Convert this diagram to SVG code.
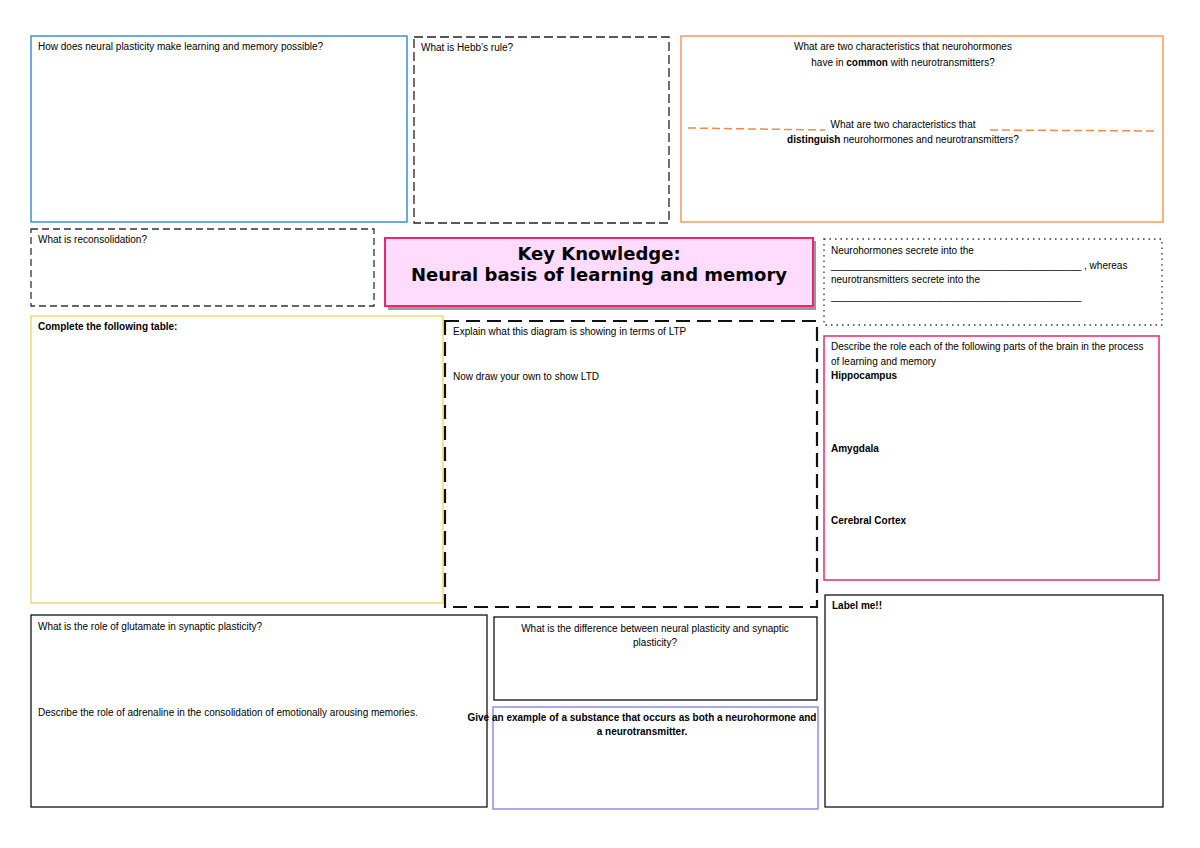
<svg xmlns="http://www.w3.org/2000/svg" width="1200" height="848" viewBox="0 0 1200 848">
<style>
text{font-family:"Liberation Sans",Arial,sans-serif;font-size:10px;fill:#000}
.b{font-weight:bold}
.box{fill:none}
.t{font-family:"DejaVu Sans",sans-serif;font-weight:bold;font-size:18px}
</style>
<rect width="1200" height="848" fill="#fff"/>
<g id="n1"><rect class="box" x="31" y="36" width="376" height="186" stroke="#1f7fc8" stroke-width="1.3"/><text x="38" y="50">How does neural plasticity make learning and memory possible?</text></g>
<g id="n2"><rect class="box" x="414" y="37" width="255" height="186" stroke="#222" stroke-width="1.3" stroke-dasharray="9,4"/><text x="421" y="51">What is Hebb’s rule?</text></g>
<g id="n3"><rect class="box" x="681" y="36" width="482" height="186" stroke="#f08a4b" stroke-width="1.3"/>
<text x="903" y="50" text-anchor="middle">What are two characteristics that neurohormones</text>
<text x="903" y="66" text-anchor="middle">have in <tspan class="b">common</tspan> with neurotransmitters?</text>
<path d="M688 128 L825 130 M990 130 L1157 131" stroke="#f08a4b" stroke-width="1.5" stroke-dasharray="8,4" fill="none"/>
<text x="903" y="128" text-anchor="middle">What are two characteristics that</text>
<text x="903" y="143" text-anchor="middle"><tspan class="b">distinguish</tspan> neurohormones and neurotransmitters?</text></g>
<g id="n4"><rect class="box" x="31" y="229" width="343" height="77" stroke="#333" stroke-width="1.3" stroke-dasharray="7,4"/><text x="38" y="243">What is reconsolidation?</text></g>
<g id="title"><rect x="388" y="241" width="428" height="69" fill="#999"/><rect x="385" y="238" width="428" height="68" fill="#ffdcfd" stroke="#e8286e" stroke-width="2"/>
<text class="t" x="599" y="260" text-anchor="middle">Key Knowledge:</text><text class="t" x="599" y="281" text-anchor="middle">Neural basis of learning and memory</text></g>
<g id="n5"><rect class="box" x="824" y="239" width="338" height="86" stroke="#333" stroke-width="1.3" stroke-dasharray="1.5,4"/>
<text x="831" y="254">Neurohormones secrete into the</text>
<text x="831" y="269">_____________________________________________ , whereas</text>
<text x="831" y="283">neurotransmitters secrete into the</text>
<text x="831" y="300">_____________________________________________</text></g>
<g id="n6"><rect class="box" x="31" y="316" width="412" height="287" stroke="#f5d25a" stroke-width="1.3"/><text class="b" x="38" y="330">Complete the following table:</text></g>
<g id="n7"><rect class="box" x="445" y="321" width="372" height="286" stroke="#111" stroke-width="2.2" stroke-dasharray="14,7"/>
<text x="453" y="335">Explain what this diagram is showing in terms of LTP</text><text x="453" y="380">Now draw your own to show LTD</text></g>
<g id="n8"><rect class="box" x="824" y="336" width="335" height="244" stroke="#e8286e" stroke-width="1.5"/>
<text x="831" y="350">Describe the role each of the following parts of the brain in the process</text>
<text x="831" y="365">of learning and memory</text>
<text class="b" x="831" y="379">Hippocampus</text><text class="b" x="831" y="452">Amygdala</text><text class="b" x="831" y="524">Cerebral Cortex</text></g>
<g id="n9"><rect class="box" x="31" y="615" width="456" height="192" stroke="#111" stroke-width="1.3"/>
<text x="38" y="630">What is the role of glutamate in synaptic plasticity?</text>
<text x="38" y="716">Describe the role of adrenaline in the consolidation of emotionally arousing memories.</text></g>
<g id="n10"><rect class="box" x="494" y="617" width="323" height="83" stroke="#111" stroke-width="1.3"/>
<text x="655" y="632" text-anchor="middle">What is the difference between neural plasticity and synaptic</text><text x="655" y="646" text-anchor="middle">plasticity?</text></g>
<g id="n11"><rect class="box" x="493" y="707" width="325" height="102" stroke="#7b7bf0" stroke-width="1.3"/>
<text class="b" x="642" y="721" text-anchor="middle">Give an example of a substance that occurs as both a neurohormone and</text><text class="b" x="642" y="735" text-anchor="middle">a neurotransmitter.</text></g>
<g id="n12"><rect class="box" x="825" y="595" width="338" height="212" stroke="#111" stroke-width="1.3"/><text class="b" x="832" y="609">Label me!!</text></g>
<g id="connectors"/>
</svg>
